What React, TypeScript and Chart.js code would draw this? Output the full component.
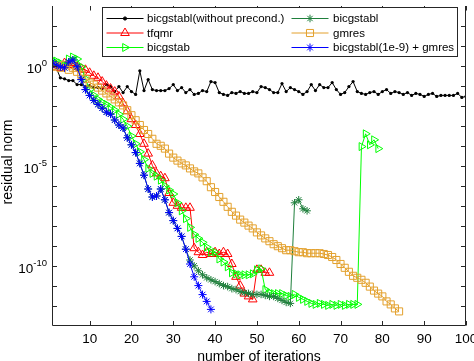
import React, { useEffect, useRef } from 'react';
import { Chart, registerables } from 'chart.js';
import { drawPoint } from 'chart.js/helpers';

Chart.register(...registerables);

// ---- data: log10 of the residual norm, one value per iteration (starting at iteration 1) ----
const bicgstablNoPrecLog10 = [
  0.0, -0.09, -0.59, -0.64, -0.73, -0.73, -0.93, -0.93, -1.03, -0.98,
  -1.08, -1.08, -1.13, -0.93, -1.03, -1.28, -1.03, -1.33, -1.03, -1.28,
  -1.42, -0.24, -1.23, -0.68, -1.18, -1.23, -1.23, -1.23, -1.13, -0.93,
  -1.23, -1.08, -1.33, -1.18, -1.42, -1.37, -1.23, -1.28, -0.78, -0.83,
  -1.33, -1.42, -1.47, -1.33, -1.37, -1.28, -1.37, -1.37, -1.28, -1.33,
  -1.03, -1.08, -1.18, -1.33, -1.33, -0.88, -1.28, -1.08, -1.18, -1.28,
  -1.42, -1.28, -0.93, -1.23, -0.93, -1.08, -1.08, -0.83, -1.18, -1.42,
  -1.33, -1.03, -0.78, -1.28, -1.37, -1.42, -1.33, -1.28, -1.42, -1.28,
  -1.18, -1.37, -1.28, -1.33, -1.42, -1.33, -1.47, -1.37, -1.42, -1.52,
  -1.42, -1.37, -1.52, -1.47, -1.47, -1.47, -1.47, -1.37, -1.57, -1.52,
];

const tfqmrLog10 = [
  -0.04, 0.05, -0.09, 0.15, 0.05, 0.15, -0.04, -0.14, -0.19, -0.34,
  -0.49, -0.59, -0.78, -0.98, -1.13, -1.28, -1.52, -1.87, -2.26, -2.66,
  -2.95, -3.4, -3.89, -4.38, -4.97, -5.37, -5.51, -5.61, -6.35, -6.84,
  -6.99, -7.09, -7.09, -7.09, -9.11, -9.31, -9.45, -9.31, -9.4, -9.31,
  -9.4, -9.31, -9.4, -9.9, -10.54, -10.98, -11.38, -11.52, -11.67, -10.19,
  -10.19, -10.34, -10.34,
];

const bicgstabLog10 = [
  0.3, 0.25, 0.15, 0.05, 0.35, 0.45, 0.35, -0.04, -0.64, -1.18,
  -1.47, -1.67, -1.82, -1.92, -2.06, -2.21, -2.41, -2.66, -3.01, -3.5,
  -3.89, -4.29, -4.68, -5.12, -5.37, -5.51, -5.71, -6.0, -6.2, -6.4,
  -6.84, -7.24, -7.63, -8.07, -8.42, -8.62, -8.82, -9.06, -9.31, -9.31,
  -9.65, -9.8, -10.04, -10.34, -10.39, -10.44, -10.44, -10.44, -10.39, -10.19,
  -10.14, -11.18, -11.33, -11.38, -11.38, -11.38, -11.48, -11.52, -11.42, -11.57,
  -11.67, -11.77, -11.87, -11.92, -11.87, -11.92, -11.97, -11.92, -11.97, -11.92,
  -11.97, -11.92, -11.92, -11.92, -4.03, -3.39, -3.94, -3.69, -4.13,
];

const bicgstablLog10 = [
  0.2, 0.05, -0.04, -0.09, 0.2, 0.3, -0.04, -0.68, -1.18, -1.47,
  -1.72, -1.92, -2.11, -2.31, -2.41, -2.7, -2.95, -3.1, -3.59, -3.94,
  -4.33, -4.87, -5.46, -6.15, -6.55, -6.5, -6.15, -6.69, -7.33, -7.73,
  -8.12, -8.52, -9.16, -9.7, -9.99, -10.24, -10.44, -10.59, -10.69, -10.78,
  -10.88, -10.98, -11.03, -11.13, -11.18, -11.28, -11.33, -11.37, -11.42, -11.42,
  -11.42, -11.47, -11.52, -11.52, -11.62, -11.72, -11.82, -11.87, -6.84, -6.69,
  -7.14, -7.24,
];

const gmresLog10 = [
  -0.04, 0.0, -0.09, 0.05, -0.19, -0.09, -0.29, -0.44, -0.64, -0.83,
  -0.93, -1.08, -1.23, -1.37, -1.52, -1.67, -1.82, -1.97, -2.21, -2.46,
  -2.71, -2.95, -3.2, -3.4, -3.64, -3.89, -3.99, -4.13, -4.38, -4.58,
  -4.73, -4.87, -4.97, -5.12, -5.27, -5.37, -5.57, -5.76, -6.06, -6.3,
  -6.55, -6.79, -7.04, -7.29, -7.48, -7.68, -7.83, -7.98, -8.12, -8.32,
  -8.47, -8.62, -8.76, -8.91, -9.01, -9.11, -9.21, -9.21, -9.26, -9.31,
  -9.31, -9.36, -9.36, -9.36, -9.36, -9.4, -9.45, -9.55, -9.7, -9.9,
  -10.09, -10.29, -10.49, -10.59, -10.69, -10.84, -11.03, -11.23, -11.38, -11.52,
  -11.77, -11.92, -12.12, -12.27,
];

const bicgstablGmresLog10 = [
  0.2, 0.05, -0.04, -0.09, 0.2, 0.3, -0.04, -0.68, -1.18, -1.47,
  -1.72, -1.92, -2.11, -2.31, -2.41, -2.7, -2.95, -3.1, -3.59, -3.94,
  -4.33, -4.87, -5.46, -6.15, -6.55, -6.5, -6.15, -6.69, -7.33, -7.73,
  -8.12, -8.52, -9.16, -9.9, -10.54, -10.98, -11.43, -11.77, -12.17,
];

// ---- axes ----
const xTickValues = [10, 20, 30, 40, 50, 60, 70, 80, 90, 100];
const yTickExponents = [-12, -11, -10, -9, -8, -7, -6, -5, -4, -3, -2, -1, 0, 1, 2];
const yLabelExponents = [0, -5, -10];
const seriesNames = [
  'bicgstabl(without precond.)',
  'tfqmr',
  'bicgstab',
  'bicgstabl',
  'gmres',
  'bicgstabl(1e-9) + gmres',
];

const seriesLogs = [
  bicgstablNoPrecLog10,
  tfqmrLog10,
  bicgstabLog10,
  bicgstablLog10,
  gmresLog10,
  bicgstablGmresLog10,
];

const seriesStyles = [
  { color: '#000000', pointStyle: 'circle', radius: 1.6, rotation: 0, fill: true },
  { color: '#ff0000', pointStyle: 'triangle', radius: 5, rotation: 0, fill: false },
  { color: '#00ff00', pointStyle: 'triangle', radius: 4.6, rotation: 90, fill: false },
  { color: '#1f7f3c', pointStyle: 'star', radius: 3.8, rotation: 0, fill: false },
  { color: '#e3a02c', pointStyle: 'rect', radius: 5, rotation: 0, fill: false },
  { color: '#0000ff', pointStyle: 'star', radius: 4, rotation: 0, fill: false },
];

const FONT = "'Liberation Sans', Arial, Helvetica, sans-serif";
const AXIS_COLOR = '#262626';

const decorPlugin = {
  id: 'decor',
  afterDraw(chart: any) {
    const { ctx, chartArea: a, scales } = chart;
    const xs = scales.x;
    const ys = scales.y;
    ctx.save();
    ctx.strokeStyle = AXIS_COLOR;
    ctx.lineWidth = 1;
    const L = Math.round(a.left) + 0.5;
    const R = Math.round(a.right) - 0.5;
    const B = Math.round(a.bottom) - 0.5;
    const T = a.top;
    ctx.beginPath();
    ctx.moveTo(L, T);
    ctx.lineTo(L, B);
    ctx.lineTo(R, B);
    ctx.lineTo(R, T);
    ctx.stroke();

    const tl = 4.5;
    ctx.beginPath();
    xTickValues.forEach((v) => {
      const px = Math.round(xs.getPixelForValue(v)) + 0.5;
      ctx.moveTo(px, B);
      ctx.lineTo(px, B - tl);
      ctx.moveTo(px, T);
      ctx.lineTo(px, T + tl);
    });
    yTickExponents.forEach((e) => {
      const py = Math.round(ys.getPixelForValue(Math.pow(10, e))) + 0.5;
      ctx.moveTo(L, py);
      ctx.lineTo(L + tl, py);
      ctx.moveTo(R, py);
      ctx.lineTo(R - tl, py);
    });
    ctx.stroke();

    // tick labels
    ctx.fillStyle = '#000';
    ctx.font = `13.5px ${FONT}`;
    ctx.textAlign = 'center';
    ctx.textBaseline = 'middle';
    xTickValues.forEach((v) => {
      ctx.fillText(String(v), xs.getPixelForValue(v), a.bottom + 13);
    });
    yLabelExponents.forEach((e) => {
      const py = ys.getPixelForValue(Math.pow(10, e));
      const sup = String(e);
      ctx.font = `9.5px ${FONT}`;
      const supW = ctx.measureText(sup).width;
      ctx.font = `13.5px ${FONT}`;
      const baseW = ctx.measureText('10').width;
      const right = a.left - 5;
      ctx.textAlign = 'left';
      ctx.fillText('10', right - supW - baseW, py + 3.5);
      ctx.font = `9.5px ${FONT}`;
      ctx.fillText(sup, right - supW, py - 3);
    });

    // axis titles
    ctx.font = `14px ${FONT}`;
    ctx.textAlign = 'center';
    ctx.textBaseline = 'middle';
    ctx.fillText('number of iterations', (a.left + a.right) / 2, a.bottom + 31);
    ctx.save();
    ctx.translate(8.5, 162);
    ctx.rotate(-Math.PI / 2);
    ctx.fillText('residual norm', 0, 0);
    ctx.restore();

    // legend
    const box = { left: 102.5, top: 7.5, right: 457.5, bottom: 56.5 };
    ctx.fillStyle = '#ffffff';
    ctx.fillRect(box.left, box.top, box.right - box.left, box.bottom - box.top);
    ctx.strokeStyle = AXIS_COLOR;
    ctx.strokeRect(box.left, box.top, box.right - box.left, box.bottom - box.top);
    const rows = [18.5, 33, 47.5];
    const cols = [
      { lineStart: 106.5, lineEnd: 143.5, text: 147 },
      { lineStart: 291.5, lineEnd: 328.5, text: 333 },
    ];
    ctx.font = `11.5px ${FONT}`;
    ctx.textAlign = 'left';
    ctx.textBaseline = 'middle';
    seriesNames.forEach((name, i) => {
      const c = cols[Math.floor(i / 3)];
      const y = rows[i % 3];
      const st = seriesStyles[i];
      ctx.strokeStyle = st.color;
      ctx.lineWidth = 1;
      ctx.beginPath();
      ctx.moveTo(c.lineStart, y);
      ctx.lineTo(c.lineEnd, y);
      ctx.stroke();
      ctx.fillStyle = st.fill ? st.color : 'rgba(0,0,0,0)';
      drawPoint(ctx, {
        pointStyle: st.pointStyle,
        radius: st.radius,
        rotation: st.rotation,
        borderWidth: 1,
      } as any, (c.lineStart + c.lineEnd) / 2, y);
      ctx.fillStyle = '#000';
      ctx.fillText(name, c.text, y + 0.5);
    });
    ctx.restore();
  },
};

export default function App() {
  const canvasRef = useRef<HTMLCanvasElement | null>(null);

  useEffect(() => {
    const canvas = canvasRef.current;
    if (!canvas) return;
    const datasets = seriesLogs.map((logs, i) => {
      const st = seriesStyles[i];
      return {
        label: seriesNames[i],
        data: logs.map((e, k) => ({ x: k + 1, y: Math.pow(10, e) })),
        borderColor: st.color,
        borderWidth: 1,
        backgroundColor: st.fill ? st.color : 'rgba(0,0,0,0)',
        pointStyle: st.pointStyle,
        pointRadius: st.radius,
        pointRotation: st.rotation,
        pointBorderColor: st.color,
        pointBackgroundColor: st.fill ? st.color : 'rgba(0,0,0,0)',
        pointBorderWidth: st.fill ? 0 : 1,
        pointHoverRadius: st.radius,
        tension: 0,
        fill: false,
        order: seriesLogs.length - i,
      };
    });
    const chart = new Chart(canvas, {
      type: 'line',
      data: { datasets } as any,
      options: {
        animation: false,
        responsive: false,
        devicePixelRatio: 1,
        events: [],
        layout: { padding: { left: 52, right: 8, top: 0, bottom: 35 } },
        scales: {
          x: { type: 'linear', min: 1, max: 100, display: false },
          y: { type: 'logarithmic', min: 1e-13, max: 1e3, display: false },
        },
        plugins: {
          legend: { display: false },
          tooltip: { enabled: false },
        },
      } as any,
      plugins: [decorPlugin],
    });
    return () => chart.destroy();
  }, []);

  return (
    <div style={{ position: 'absolute', left: 0, top: 0, width: 474, height: 361, background: '#fff', overflow: 'hidden' }}>
      <canvas ref={canvasRef} width={474} height={361} style={{ display: 'block', width: 474, height: 361 }} />
    </div>
  );
}
